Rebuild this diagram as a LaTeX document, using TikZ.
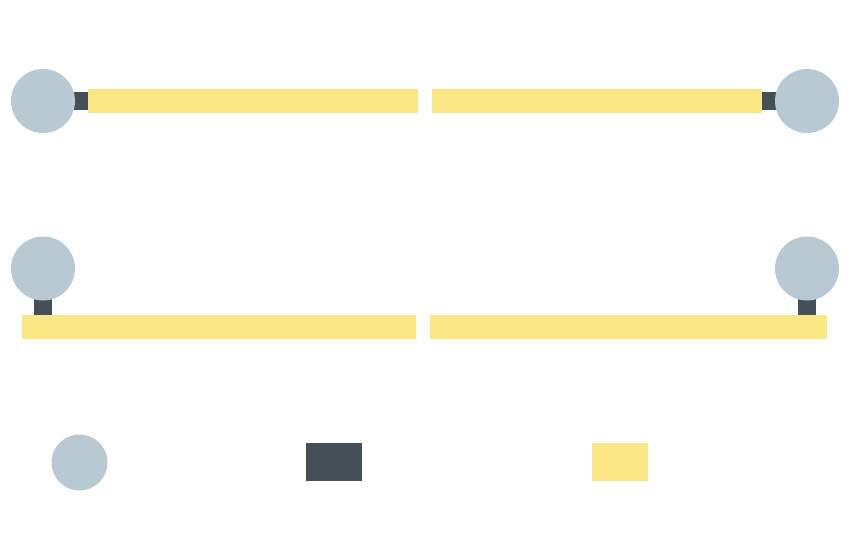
\documentclass[tikz,border=0pt]{standalone}
\usepackage{tikz}

\definecolor{bulbgrey}{HTML}{B8C9D3}
\definecolor{stemdark}{HTML}{454F57}
\definecolor{baryellow}{HTML}{F9E784}

\tikzset{
  bulb/.style={circle, fill=bulbgrey, inner sep=0pt, minimum size=64pt},
  stem/.style={rectangle, fill=stemdark, inner sep=0pt},
  bar/.style={rectangle, fill=baryellow, inner sep=0pt, minimum height=24pt},
}

\begin{document}
\begin{tikzpicture}[x=1pt,y=-1pt]
\useasboundingbox (0,0) rectangle (850,532);

% first row: stems sideways
\node[bar, minimum width=330pt] (barA) at (253,101) {};
\node[bar, minimum width=330pt] (barB) at (597,101) {};
\node[stem, minimum width=15pt, minimum height=18pt] (stemA) at (80.5,101) {};
\node[stem, minimum width=15pt, minimum height=18pt] (stemB) at (769.5,101) {};
\node[bulb] (bulbA) at (43,101) {};
\node[bulb] (bulbB) at (807,101) {};

% second row: stems down
\node[bar, minimum width=394pt] (barC) at (219,327) {};
\node[bar, minimum width=397pt] (barD) at (628.5,327) {};
\node[stem, minimum width=18pt, minimum height=16pt] (stemC) at (43,307) {};
\node[stem, minimum width=18pt, minimum height=16pt] (stemD) at (807,307) {};
\node[bulb] (bulbC) at (43,268.5) {};
\node[bulb] (bulbD) at (807,268.5) {};

% legend row
\node[bulb, minimum size=56pt] (keyBulb) at (79.5,462.5) {};
\node[stem, minimum width=56pt, minimum height=38pt] (keyStem) at (334,462) {};
\node[bar, minimum width=56pt, minimum height=38pt] (keyBar) at (620,462) {};

\end{tikzpicture}
\end{document}
